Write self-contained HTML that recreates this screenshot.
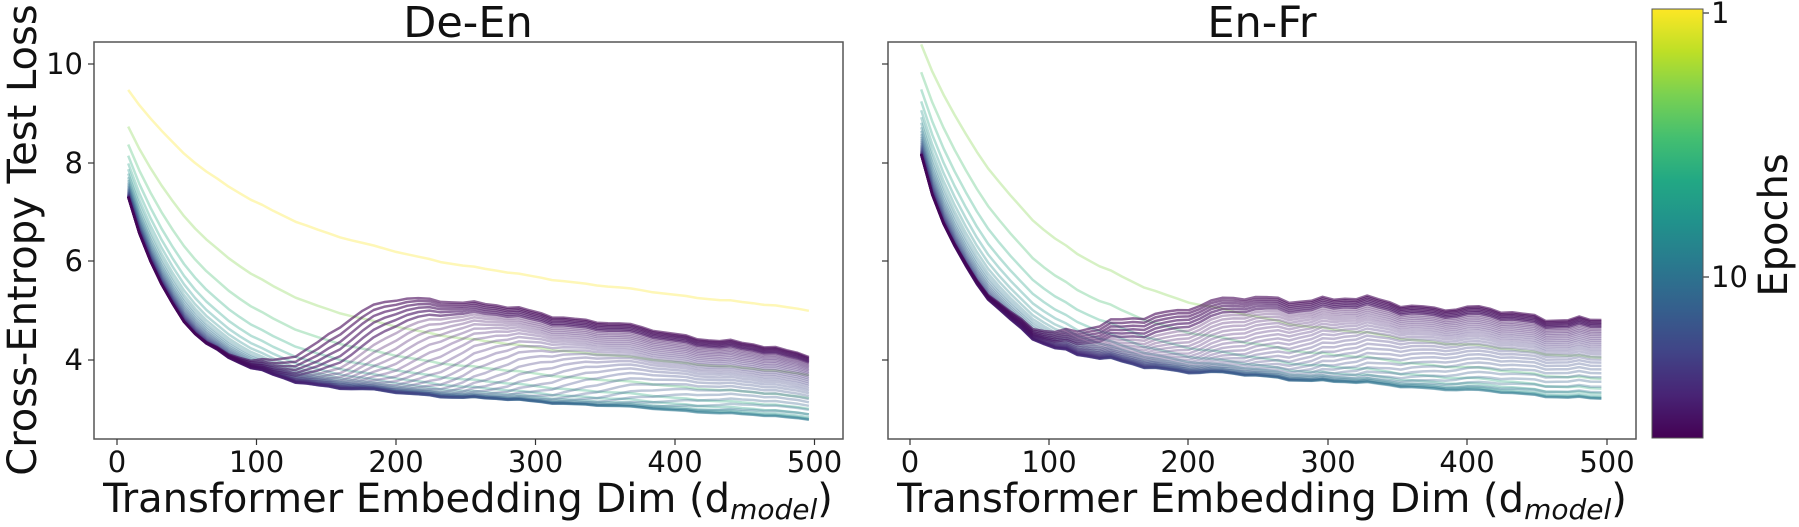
<!DOCTYPE html>
<html><head><meta charset="utf-8"><style>
body{margin:0;background:#fff;}
svg{display:block;font-family:"DejaVu Sans","Liberation Sans",sans-serif;}
</style></head><body>
<svg id="s" width="1799" height="527" viewBox="0 0 1799 527" xmlns="http://www.w3.org/2000/svg">
<defs>
<linearGradient id="vir" x1="0" y1="1" x2="0" y2="0">
<stop offset="0" stop-color="#440154"/><stop offset="0.1" stop-color="#482475"/><stop offset="0.2" stop-color="#414487"/><stop offset="0.3" stop-color="#355f8d"/><stop offset="0.4" stop-color="#2a788e"/><stop offset="0.5" stop-color="#21918c"/><stop offset="0.6" stop-color="#22a884"/><stop offset="0.7" stop-color="#44bf70"/><stop offset="0.8" stop-color="#7ad151"/><stop offset="0.9" stop-color="#bddf26"/><stop offset="1" stop-color="#fde725"/>
</linearGradient>
<clipPath id="c1"><rect x="94" y="42" width="749" height="397"/></clipPath>
<clipPath id="c2"><rect x="888" y="42" width="748" height="397"/></clipPath>
</defs>
<g id="g1" clip-path="url(#c1)"></g>
<g id="g2" clip-path="url(#c2)"></g>
<rect x="94" y="42" width="749" height="397" fill="none" stroke="#555" stroke-width="1.5"/>
<rect x="888" y="42" width="748" height="397" fill="none" stroke="#555" stroke-width="1.5"/>
<g stroke="#333" stroke-width="1.2">
<line x1="94" y1="64" x2="88" y2="64"/><line x1="94" y1="163" x2="88" y2="163"/><line x1="94" y1="261" x2="88" y2="261"/><line x1="94" y1="360" x2="88" y2="360"/>
<line x1="888" y1="64" x2="882" y2="64"/><line x1="888" y1="163" x2="882" y2="163"/><line x1="888" y1="261" x2="882" y2="261"/><line x1="888" y1="360" x2="882" y2="360"/>
<line x1="117" y1="439" x2="117" y2="445"/><line x1="256.5" y1="439" x2="256.5" y2="445"/><line x1="396" y1="439" x2="396" y2="445"/><line x1="535.5" y1="439" x2="535.5" y2="445"/><line x1="675" y1="439" x2="675" y2="445"/><line x1="814.5" y1="439" x2="814.5" y2="445"/>
<line x1="910" y1="439" x2="910" y2="445"/><line x1="1049" y1="439" x2="1049" y2="445"/><line x1="1188" y1="439" x2="1188" y2="445"/><line x1="1328" y1="439" x2="1328" y2="445"/><line x1="1467" y1="439" x2="1467" y2="445"/><line x1="1607" y1="439" x2="1607" y2="445"/>
<line x1="1703" y1="13" x2="1709" y2="13"/><line x1="1703" y1="277" x2="1709" y2="277"/>
</g>
<g font-size="29" fill="#111" text-anchor="end">
<text x="83" y="74">10</text><text x="83" y="173">8</text><text x="83" y="271">6</text><text x="83" y="370">4</text>
</g>
<g font-size="29" fill="#111" text-anchor="middle">
<text x="117" y="472">0</text><text x="256.5" y="472">100</text><text x="396" y="472">200</text><text x="535.5" y="472">300</text><text x="675" y="472">400</text><text x="814.5" y="472">500</text>
<text x="910" y="472">0</text><text x="1049" y="472">100</text><text x="1188" y="472">200</text><text x="1328" y="472">300</text><text x="1467" y="472">400</text><text x="1607" y="472">500</text>
</g>
<g font-size="29" fill="#111"><text x="1711" y="23">1</text><text x="1711" y="287">10</text></g>
<g font-size="40" fill="#111" text-anchor="middle">
<text x="468" y="37" font-size="43">De-En</text><text x="1262" y="37" font-size="43">En-Fr</text>
<text x="468" y="512">Transformer Embedding Dim (d<tspan font-size="28" font-style="italic" dy="7">model</tspan><tspan dy="-7">)</tspan></text>
<text x="1262" y="512">Transformer Embedding Dim (d<tspan font-size="28" font-style="italic" dy="7">model</tspan><tspan dy="-7">)</tspan></text>
<text transform="translate(36,240) rotate(-90)">Cross-Entropy Test Loss</text>
<text transform="translate(1787,225) rotate(-90)">Epochs</text>
</g>
<rect x="1652" y="9" width="51" height="429" fill="url(#vir)" stroke="#555" stroke-width="1"/>
</svg>
<script>
var V=[[0,[68,1,84]],[0.1,[72,36,117]],[0.2,[65,68,135]],[0.3,[53,95,141]],[0.4,[42,120,142]],[0.5,[33,145,140]],[0.6,[34,168,132]],[0.7,[68,191,112]],[0.8,[122,209,81]],[0.9,[189,223,38]],[1,[253,231,37]]];
function vir(t){t=Math.max(0,Math.min(1,t));for(var i=1;i<V.length;i++){if(t<=V[i][0]){var a=V[i-1],b=V[i],f=(t-a[0])/(b[0]-a[0]);return 'rgb('+[0,1,2].map(function(k){return Math.round(a[1][k]+(b[1][k]-a[1][k])*f)}).join(',')+')';}}}
function Y(v){return 360-(v-4)*49.25;}
function noise(d,seed){return 0.05*Math.sin(d*0.07+seed)+0.04*Math.sin(d*0.17+2*seed)+0.02*Math.sin(d*0.41+seed*3);}
function panel(gid,x0,sx,P){
  var g=document.getElementById(gid),h='';
  for(var e=P.e0;e<=40;e++){
    var t=Math.log(e)/Math.log(40),w=1-t;
    var L0=P.L0base+(P.L0top-P.L0base)*Math.pow(w,P.pw);
    var end=e<=10?P.low+(P.hi-P.low)*Math.pow(1-Math.log10(e),2.5):P.low;
    var s=0.8+0.7*w*w,tau=P.tau0+P.tau1*w*w;
    var u=e>10?(Math.log(e)-Math.log(10))/(Math.log(40)-Math.log(10)):0;
    var pts=[];
    for(var d=8;d<=496;d+=8){
      var v=end+s*(500-d)/500+(L0-end-s)*Math.exp(-(d-8)/tau);
      if(u>0){var d0=P.d0+(1-u)*P.dspan;var sg=1/(1+Math.exp(-(d-d0)/P.w));
        var dec=1-P.dk*Math.max(0,Math.min(1,(d-P.pk)/(500-P.pk)));
        v+=P.H*Math.pow(u,0.9)*sg*dec;}
      v+=noise(d,P.seed)*(0.5+u)*P.nz;
      pts.push((x0+sx*d).toFixed(1)+','+Y(v).toFixed(1));
    }
    var c=vir(1-Math.log(e)/Math.log(41));
    h+='<polyline points="'+pts.join(' ')+'" fill="none" stroke="'+c+'" stroke-opacity="'+(e>34?0.6:0.33)+'" stroke-width="2.5" stroke-linejoin="round"/>';
  }
  g.innerHTML=h;
}
panel('g1',117,1.395,{e0:1,L0top:9.5,L0base:7.3,pw:2,low:2.8,hi:5.0,tau0:38,tau1:45,d0:150,dspan:300,w:22,H:2.1,dk:0.38,pk:210,seed:1,nz:0.4});
panel('g2',910,1.394,{e0:2,L0top:11.6,L0base:8.2,pw:2,low:3.2,hi:5.2,tau0:40,tau1:55,d0:150,dspan:280,w:38,H:1.75,dk:0.1,pk:320,seed:4,nz:0.7});
</script>
</body></html>
